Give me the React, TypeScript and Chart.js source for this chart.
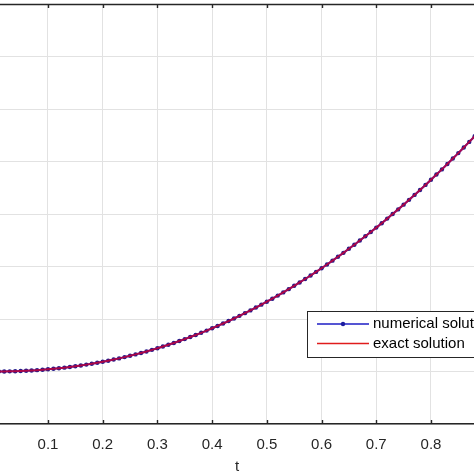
import { useEffect, useRef } from 'react';
import { Chart, registerables } from 'chart.js';

Chart.register(...registerables);
Chart.defaults.font.family = '"Liberation Sans", Arial, sans-serif';

// time grid of the numerical scheme (h = 0.01)
const tValues = [
  0, 0.01, 0.02, 0.03, 0.04, 0.05, 0.06, 0.07, 0.08, 0.09,
  0.1, 0.11, 0.12, 0.13, 0.14, 0.15, 0.16, 0.17, 0.18, 0.19,
  0.2, 0.21, 0.22, 0.23, 0.24, 0.25, 0.26, 0.27, 0.28, 0.29,
  0.3, 0.31, 0.32, 0.33, 0.34, 0.35, 0.36, 0.37, 0.38, 0.39,
  0.4, 0.41, 0.42, 0.43, 0.44, 0.45, 0.46, 0.47, 0.48, 0.49,
  0.5, 0.51, 0.52, 0.53, 0.54, 0.55, 0.56, 0.57, 0.58, 0.59,
  0.6, 0.61, 0.62, 0.63, 0.64, 0.65, 0.66, 0.67, 0.68, 0.69,
  0.7, 0.71, 0.72, 0.73, 0.74, 0.75, 0.76, 0.77, 0.78, 0.79,
  0.8, 0.81, 0.82, 0.83, 0.84, 0.85, 0.86, 0.87, 0.88, 0.89,
];

// values (y in grid units, labels are cropped)
const numericalU = [
  1.0, 1.0, 1.001, 1.003, 1.006, 1.009, 1.014, 1.019, 1.026, 1.033,
  1.042, 1.051, 1.062, 1.073, 1.086, 1.1, 1.115, 1.131, 1.148, 1.166,
  1.185, 1.206, 1.228, 1.25, 1.274, 1.3, 1.326, 1.353, 1.382, 1.412,
  1.443, 1.476, 1.509, 1.544, 1.58, 1.617, 1.656, 1.696, 1.737, 1.779,
  1.823, 1.868, 1.914, 1.961, 2.01, 2.06, 2.111, 2.164, 2.218, 2.273,
  2.329, 2.387, 2.446, 2.507, 2.569, 2.632, 2.696, 2.762, 2.829, 2.897,
  2.967, 3.038, 3.111, 3.185, 3.26, 3.337, 3.415, 3.494, 3.575, 3.657,
  3.741, 3.825, 3.912, 3.999, 4.088, 4.178, 4.27, 4.364, 4.458, 4.554,
  4.652, 4.751, 4.85, 4.953, 5.056, 5.16, 5.266, 5.373, 5.482, 5.593,
];

// exact solution lies on top of the numerical one
const exactU = [
  1.0, 1.0, 1.001, 1.003, 1.006, 1.009, 1.014, 1.019, 1.026, 1.033,
  1.042, 1.051, 1.062, 1.073, 1.086, 1.1, 1.115, 1.131, 1.148, 1.166,
  1.185, 1.206, 1.228, 1.25, 1.274, 1.3, 1.326, 1.353, 1.382, 1.412,
  1.443, 1.476, 1.509, 1.544, 1.58, 1.617, 1.656, 1.696, 1.737, 1.779,
  1.823, 1.868, 1.914, 1.961, 2.01, 2.06, 2.111, 2.164, 2.218, 2.273,
  2.329, 2.387, 2.446, 2.507, 2.569, 2.632, 2.696, 2.762, 2.829, 2.897,
  2.967, 3.038, 3.111, 3.185, 3.26, 3.337, 3.415, 3.494, 3.575, 3.657,
  3.741, 3.825, 3.912, 3.999, 4.088, 4.178, 4.27, 4.364, 4.458, 4.554,
  4.652, 4.751, 4.85, 4.953, 5.056, 5.16, 5.266, 5.373, 5.482, 5.593,
];

const xTicks = [0.1, 0.2, 0.3, 0.4, 0.5, 0.6, 0.7, 0.8];
const yTicks = [0, 1, 2, 3, 4, 5, 6, 7, 8];
const seriesLabels = ['numerical solution', 'exact solution'];

const AXIS = '#262626';
const GRID = '#e2e2e2';

// MATLAB-like box: top edge, inward tick marks, legend inside the axes
const matlabFrame = {
  id: 'matlabFrame',
  afterDraw(chart: any) {
    const { ctx, chartArea, scales } = chart;
    const { left, right, top, bottom } = chartArea;
    ctx.save();
    ctx.strokeStyle = AXIS;
    ctx.lineWidth = 1.4;
    ctx.beginPath();
    ctx.moveTo(left, top + 0.5);
    ctx.lineTo(right, top + 0.5);
    xTicks.forEach((v) => {
      const px = Math.round(scales.x.getPixelForValue(v)) + 0.5;
      ctx.moveTo(px, bottom);
      ctx.lineTo(px, bottom - 4);
      ctx.moveTo(px, top);
      ctx.lineTo(px, top + 4);
    });
    ctx.stroke();

    // legend
    const lx = left + 307;
    const ly = top + 307;
    const lh = 46;
    ctx.fillStyle = '#ffffff';
    ctx.fillRect(lx, ly, 300, lh);
    ctx.lineWidth = 1;
    ctx.strokeStyle = AXIS;
    ctx.strokeRect(lx + 0.5, ly + 0.5, 300, lh);

    const rows = [ly + 13, ly + 32.5];
    ctx.lineWidth = 1.6;
    ctx.strokeStyle = '#1c1cc4';
    ctx.beginPath();
    ctx.moveTo(lx + 10, rows[0]);
    ctx.lineTo(lx + 62, rows[0]);
    ctx.stroke();
    ctx.fillStyle = '#1c1ca0';
    ctx.beginPath();
    ctx.arc(lx + 36, rows[0], 2.2, 0, Math.PI * 2);
    ctx.fill();
    ctx.strokeStyle = '#e01c1c';
    ctx.beginPath();
    ctx.moveTo(lx + 10, rows[1]);
    ctx.lineTo(lx + 62, rows[1]);
    ctx.stroke();

    ctx.fillStyle = '#000000';
    ctx.font = '15px "Liberation Sans", Arial, sans-serif';
    ctx.textBaseline = 'middle';
    ctx.textAlign = 'left';
    seriesLabels.forEach((label, i) => ctx.fillText(label, lx + 66, rows[i]));
    ctx.restore();
  },
};

export default function App() {
  const canvasRef = useRef<HTMLCanvasElement>(null);

  useEffect(() => {
    if (!canvasRef.current) return;

    const chart = new Chart(canvasRef.current, {
      type: 'line',
      data: {
        datasets: [
          {
            label: seriesLabels[0],
            data: tValues.map((t, i) => ({ x: t, y: numericalU[i] })),
            borderColor: '#1c1cc4',
            borderWidth: 2,
            pointRadius: 2.2,
            pointBackgroundColor: '#241a8a',
            pointBorderWidth: 0,
            order: 1,
          },
          {
            label: seriesLabels[1],
            data: tValues.map((t, i) => ({ x: t, y: exactU[i] })),
            borderColor: 'rgba(225, 0, 40, 0.72)',
            borderWidth: 2,
            pointRadius: 0,
            order: 0,
          },
        ],
      },
      options: {
        responsive: false,
        animation: false,
        layout: { autoPadding: false, padding: { top: 4, left: 0, right: 0, bottom: 0 } },
        plugins: {
          legend: { display: false },
          tooltip: { enabled: false },
        },
        scales: {
          x: {
            type: 'linear',
            min: 0.01227,
            max: 0.87866,
            afterBuildTicks: (s: any) => {
              s.ticks = xTicks.map((v) => ({ value: v }));
            },
            afterFit: (s: any) => {
              s.height = 50;
              s.paddingLeft = 0;
              s.paddingRight = 0;
            },
            grid: { color: GRID, lineWidth: 1, drawTicks: false },
            border: { display: true, color: AXIS, width: 1.4 },
            ticks: {
              padding: 12,
              color: AXIS,
              font: { size: 15 },
              maxRotation: 0,
              autoSkip: false,
              callback: (v: any) => Number(v).toFixed(1),
            },
            title: {
              display: true,
              text: 't',
              color: AXIS,
              font: { size: 15 },
              padding: { top: 0, bottom: -2 },
            },
          },
          y: {
            type: 'linear',
            min: 0,
            max: 8,
            afterBuildTicks: (s: any) => {
              s.ticks = yTicks.map((v) => ({ value: v }));
            },
            afterFit: (s: any) => {
              s.width = 0;
              s.paddingTop = 0;
              s.paddingBottom = 0;
            },
            grid: { color: GRID, lineWidth: 1, drawTicks: false },
            border: { display: false },
            ticks: { display: false },
          },
        },
      },
      plugins: [matlabFrame],
    });

    return () => chart.destroy();
  }, []);

  return (
    <div style={{ position: 'fixed', left: 0, top: 0, width: 474, height: 474, background: '#ffffff' }}>
      <canvas ref={canvasRef} width={474} height={474} style={{ display: 'block' }} />
    </div>
  );
}
